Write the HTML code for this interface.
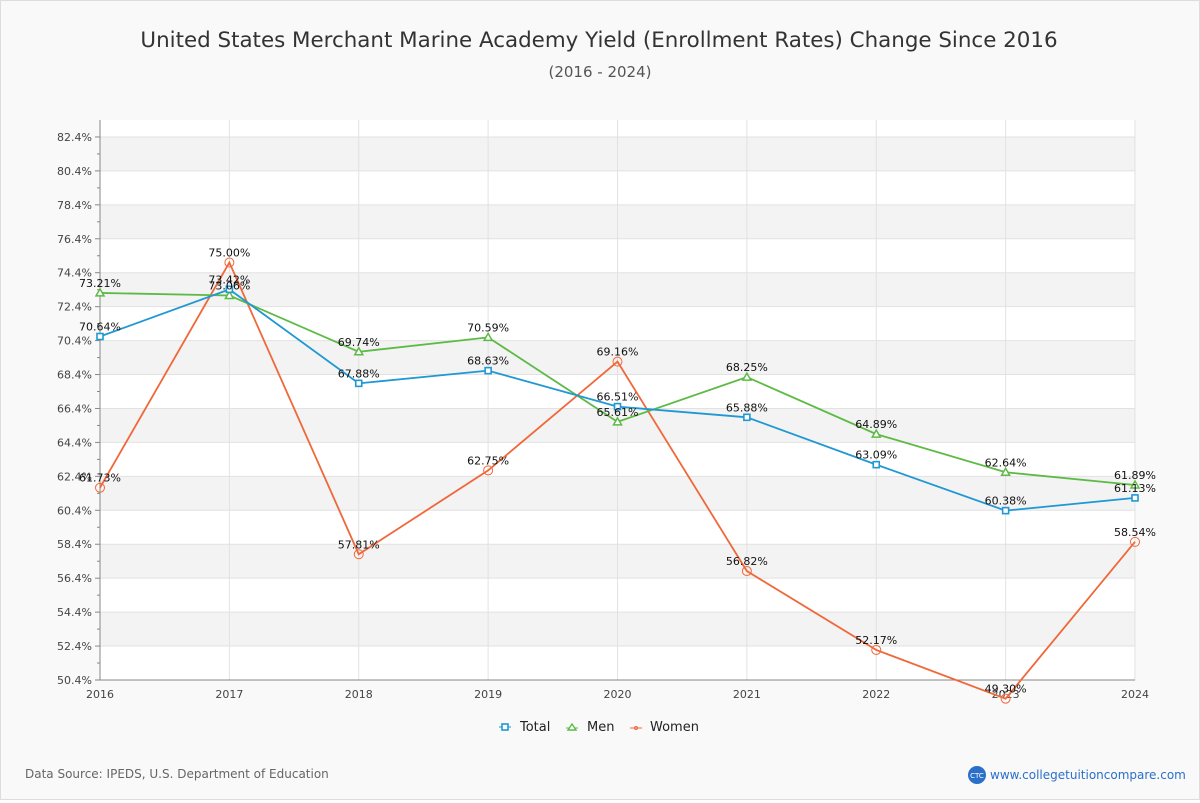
<!DOCTYPE html><html><head><meta charset="utf-8"><style>
body{margin:0;background:#fff}
#c{width:1198px;height:798px;border:1px solid #ddd;background:#f9f9f9;position:relative;font-family:"DejaVu Sans","Liberation Sans",sans-serif}
</style></head><body><div id="c"><svg id="s" width="1198" height="798" xmlns="http://www.w3.org/2000/svg" font-family="DejaVu Sans, Liberation Sans, sans-serif"></svg></div>
<script>
var s=document.getElementById('s'),h='';
var L=99,R=1134,T=119,B=679;
function Y(v){return 679-(v-50.4)*16.97;}
function X(i){return 99+i*129.375;}
h+='<text x="598" y="46" text-anchor="middle" font-size="21.4" fill="#333">United States Merchant Marine Academy Yield (Enrollment Rates) Change Since 2016</text>';
h+='<text x="599" y="76" text-anchor="middle" font-size="15" fill="#555">(2016 - 2024)</text>';
h+='<rect x="'+L+'" y="'+T+'" width="'+(R-L)+'" height="'+(B-T)+'" fill="#fff"/>';
for(var k=0;k<8;k++){var a=Y(82.4-4*k),b=Y(80.4-4*k);h+='<rect x="'+L+'" y="'+a+'" width="'+(R-L)+'" height="'+(b-a)+'" fill="#f3f3f3"/>';}
for(var v=50.4;v<83;v+=2){var y=Y(v);h+='<line x1="'+L+'" x2="'+R+'" y1="'+y+'" y2="'+y+'" stroke="#e2e2e2"/>';h+='<text x="91" y="'+(y+4)+'" text-anchor="end" font-size="11" fill="#444">'+v.toFixed(1)+'%</text>';h+='<line x1="94" x2="'+L+'" y1="'+y+'" y2="'+y+'" stroke="#888"/>';
var y2=Y(v+1);if(y2>T)h+='<line x1="96" x2="'+L+'" y1="'+y2+'" y2="'+y2+'" stroke="#888"/>';}
for(var i=0;i<9;i++){var x=X(i);h+='<line x1="'+x+'" x2="'+x+'" y1="'+T+'" y2="'+B+'" stroke="#e2e2e2"/>';h+='<text x="'+x+'" y="697" text-anchor="middle" font-size="11" fill="#444">'+(2016+i)+'</text>';}
h+='<line x1="'+L+'" x2="'+L+'" y1="'+T+'" y2="'+B+'" stroke="#888"/><line x1="'+L+'" x2="'+R+'" y1="'+B+'" y2="'+B+'" stroke="#888"/>';
var D=[["#f0683a",[61.73,75.00,57.81,62.75,69.16,56.82,52.17,49.30,58.54],"c"],["#5dba45",[73.21,73.06,69.74,70.59,65.61,68.25,64.89,62.64,61.89],"t"],["#1f98d3",[70.64,73.42,67.88,68.63,66.51,65.88,63.09,60.38,61.13],"s"]];
var lab='';
D.forEach(function(d){var p=d[1].map(function(v,i){return X(i)+','+Y(v)}).join(' ');h+='<polyline points="'+p+'" fill="none" stroke="'+d[0]+'" stroke-width="1.8"/>';
d[1].forEach(function(v,i){var x=X(i),y=Y(v);
if(d[2]=='c')h+='<circle cx="'+x+'" cy="'+y+'" r="4.5" fill="none" stroke="'+d[0]+'"/>';
else if(d[2]=='t')h+='<path d="M'+(x-4)+' '+(y+3)+'L'+x+' '+(y-4)+'L'+(x+4)+' '+(y+3)+'Z" fill="#fff" stroke="'+d[0]+'" stroke-width="1.5"/>';
else h+='<rect x="'+(x-3)+'" y="'+(y-3)+'" width="6" height="6" fill="#fff" stroke="'+d[0]+'" stroke-width="1.6"/>';
lab+='<text x="'+x+'" y="'+(y-6)+'" text-anchor="middle" font-size="11" fill="#111">'+v.toFixed(2)+'%</text>';});});
h+=lab;
h+='<line x1="498" x2="510" y1="726" y2="726" stroke="#1f98d3"/><rect x="501" y="723" width="6" height="6" fill="#fff" stroke="#1f98d3" stroke-width="1.6"/><text x="519" y="730" font-size="13" fill="#222">Total</text>';
h+='<line x1="565" x2="577" y1="727" y2="727" stroke="#5dba45"/><path d="M567 729L571 723L575 729Z" fill="#fff" stroke="#5dba45" stroke-width="1.4"/><text x="586" y="730" font-size="13" fill="#222">Men</text>';
h+='<line x1="629" x2="641" y1="727" y2="727" stroke="#f0683a"/><circle cx="635" cy="727" r="1.5" fill="none" stroke="#f0683a"/><text x="649" y="730" font-size="13" fill="#222">Women</text>';
h+='<text x="24" y="777" font-size="12" fill="#666">Data Source: IPEDS, U.S. Department of Education</text>';
h+='<circle cx="976" cy="774" r="9" fill="#2a6fc9"/><text x="976" y="777" text-anchor="middle" font-size="7" fill="#fff">CTC</text><text x="989" y="778" font-size="12" fill="#2a6fc9">www.collegetuitioncompare.com</text>';
s.innerHTML=h;
</script></body></html>
